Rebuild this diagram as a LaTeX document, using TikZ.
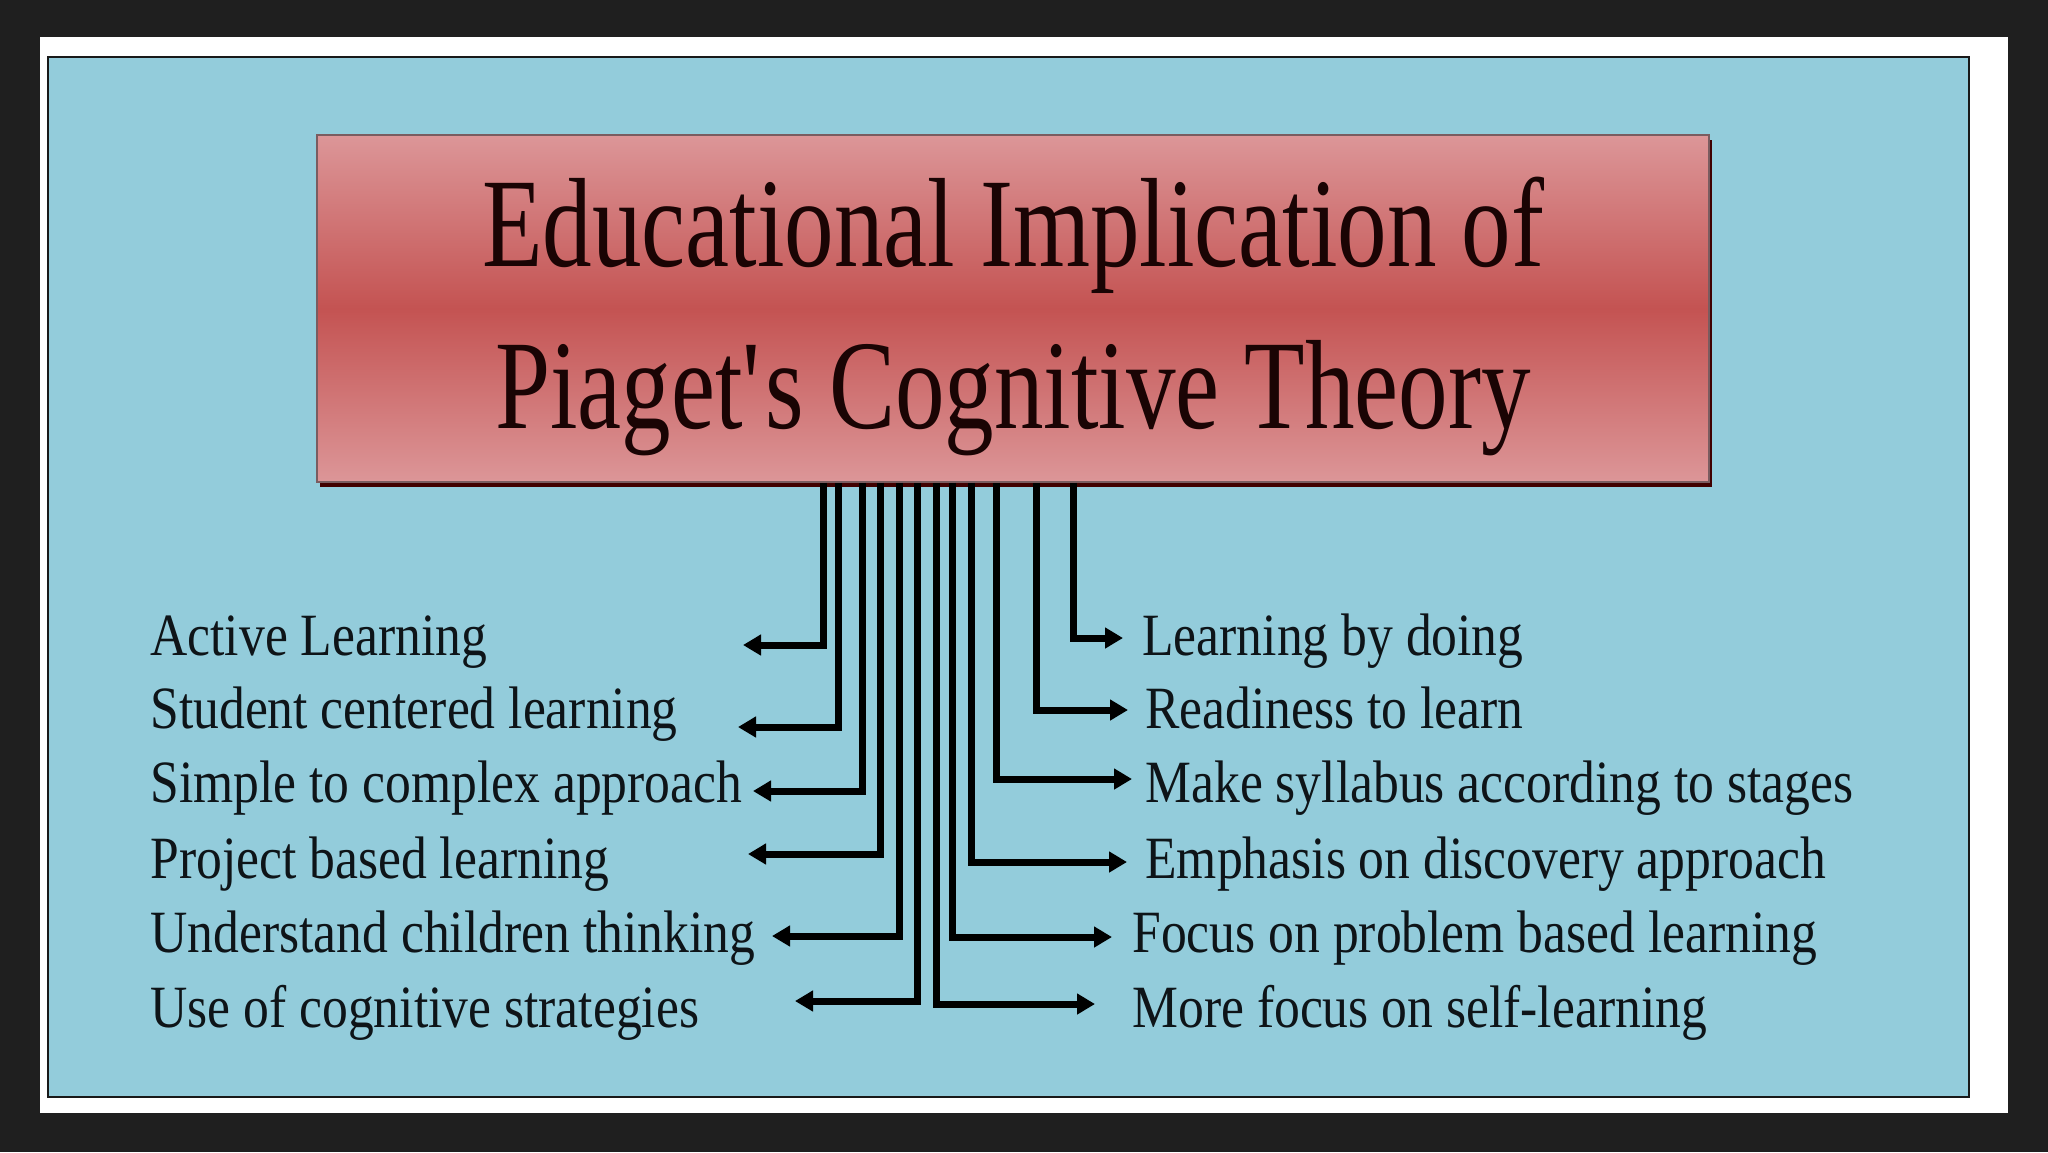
\documentclass[tikz,border=0pt]{standalone}
\usepackage{fontspec}
\usepackage{xcolor}
\usetikzlibrary{positioning}
\usetikzlibrary{arrows.meta}
\usetikzlibrary{shadows}
\setmainfont{Liberation Serif}
\newfontfamily\titlefont[FakeStretch=0.78]{Liberation Serif}
\newfontfamily\itemfont[FakeStretch=0.86]{Liberation Serif}
\definecolor{panelblue}{HTML}{93CCDB}
\definecolor{boxpink}{HTML}{DC9698}
\definecolor{boxred}{HTML}{C45352}
\definecolor{boxline}{HTML}{7A5C60}
\definecolor{inkdark}{HTML}{0E1418}
\definecolor{titleink}{HTML}{1A0404}

\begin{document}
\begin{tikzpicture}[x=0.5pt, y=-0.5pt,
    >={Triangle[length=9pt,width=10pt]},
    item/.style={anchor=base west, inner sep=0pt, text=inkdark,
        font=\itemfont\fontsize{30}{36}\selectfont},
    link/.style={->, line width=3.5pt, draw=black}]
            % Frame
            \fill[black!88] (0,0) rectangle (2048,1152);
            \fill[white] (40,37) rectangle (2008,1113);
            \draw[fill=panelblue, draw=black!90, line width=1pt] (48,57) rectangle (1969,1097);

            % Title box
            \node[draw=boxline, line width=0.8pt, top color=boxpink, bottom color=boxpink, middle color=boxred,
                minimum width=696pt, minimum height=173.5pt, inner sep=0pt, align=center, text=titleink,
                font=\titlefont\fontsize{63.5}{81}\selectfont,
                drop shadow={shadow xshift=1.5pt, shadow yshift=-2.5pt, fill=black!75!red, opacity=1}]
                (title) at (1013,308.5) {\rule{0pt}{52.5pt}Educational Implication of\\Piaget\textquotesingle s Cognitive Theory};

            % Left column
            \node[item] (active) at (150,655) {Active Learning};
            \node[item] (centered) at (150,728) {Student centered learning};
            \node[item] (simple) at (150,802) {Simple to complex approach};
            \node[item] (project) at (150,878) {Project based learning};
            \node[item] (understand) at (150,952) {Understand children thinking};
            \node[item] (strategies) at (150,1027) {Use of cognitive strategies};

            % Right column
            \node[item] (doing) at (1142,655) {Learning by doing};
            \node[item] (readiness) at (1145,728) {Readiness to learn};
            \node[item] (syllabus) at (1145,802) {Make syllabus according to stages};
            \node[item] (discovery) at (1145,878) {Emphasis on discovery approach};
            \node[item] (problem) at (1132,952) {Focus on problem based learning};
            \node[item] (selflearn) at (1132,1027) {More focus on self-learning};

            % Arrow ends
            \coordinate (activetip) at (743,645);
            \coordinate (centeredtip) at (738,727);
            \coordinate (simpletip) at (753,791);
            \coordinate (projecttip) at (748,854);
            \coordinate (understandtip) at (772,936);
            \coordinate (strategiestip) at (795,1001);
            \coordinate (doingtip) at (1123,638);
            \coordinate (readinesstip) at (1128,710);
            \coordinate (syllabustip) at (1132,779);
            \coordinate (discoverytip) at (1127,862);
            \coordinate (problemtip) at (1112,937);
            \coordinate (selflearntip) at (1095,1004);

            \draw[link] ([xshift=-95pt]title.south) |- (activetip);
            \draw[link] ([xshift=-87.5pt]title.south) |- (centeredtip);
            \draw[link] ([xshift=-75.5pt]title.south) |- (simpletip);
            \draw[link] ([xshift=-66.5pt]title.south) |- (projecttip);
            \draw[link] ([xshift=-57pt]title.south) |- (understandtip);
            \draw[link] ([xshift=-48pt]title.south) |- (strategiestip);
            \draw[link] ([xshift=-38.5pt]title.south) |- (selflearntip);
            \draw[link] ([xshift=-30.5pt]title.south) |- (problemtip);
            \draw[link] ([xshift=-21pt]title.south) |- (discoverytip);
            \draw[link] ([xshift=-8.5pt]title.south) |- (syllabustip);
            \draw[link] ([xshift=11.5pt]title.south) |- (readinesstip);
            \draw[link] ([xshift=30pt]title.south) |- (doingtip);
        \end{tikzpicture}
\end{document}
